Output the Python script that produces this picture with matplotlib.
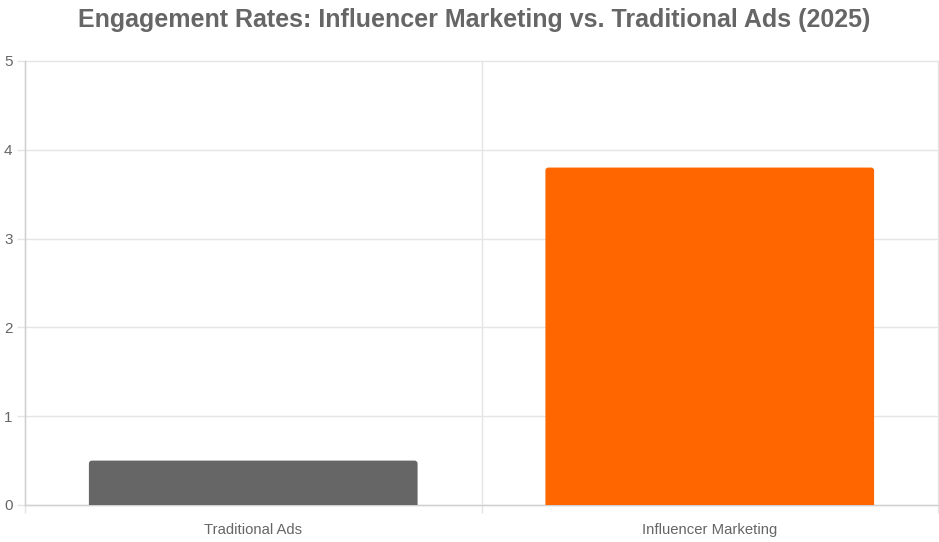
#!/usr/bin/env python3
"""Engagement rates bar chart: influencer marketing vs traditional ads."""

import matplotlib
matplotlib.use("Agg")
import matplotlib.pyplot as plt
from matplotlib.patches import FancyBboxPatch

categories = ["Traditional Ads", "Influencer Marketing"]
engagement = [0.5, 3.8]
bar_colors = ["#666666", "#FF6600"]
y_ticks = [0, 1, 2, 3, 4, 5]

plt.rcParams["font.family"] = ["Liberation Sans", "DejaVu Sans"]

W, H = 939, 542
fig = plt.figure(figsize=(W / 100, H / 100), dpi=100)
ax = fig.add_axes([25 / W, (H - 505) / H, (938 - 25) / W, (505 - 61) / H])

ax.set_xlim(-0.5, len(categories) - 0.5)
ax.set_ylim(0, 5)

# rounded-top bars (bottom corners hidden below the axis by clipping)
bar_w = 0.72
px_x = (938 - 25) / len(categories)
px_y = (505 - 61) / 5
r = 3 / px_x
for i, (val, col) in enumerate(zip(engagement, bar_colors)):
    patch = FancyBboxPatch((i - bar_w / 2, -0.2), bar_w, val + 0.2,
                           boxstyle=f"round,pad=0,rounding_size={r}",
                           mutation_aspect=px_x / px_y,
                           facecolor=col, edgecolor="none", zorder=3)
    ax.add_patch(patch)

grid_col = "#e5e5e5"
ax.set_yticks(y_ticks)
ax.set_xticks(range(len(categories)))
ax.set_xticklabels(categories)
ax.set_xticks([i - 0.5 for i in range(len(categories) + 1)], minor=True)

ax.grid(False)
for y in y_ticks:
    ax.axhline(y, color=grid_col, lw=1, zorder=1, clip_on=False)
for x in ax.get_xticks(minor=True):
    ax.axvline(x, color=grid_col, lw=1, zorder=1, clip_on=False)

for s in ["top", "right"]:
    ax.spines[s].set_visible(False)
for s in ["left", "bottom"]:
    ax.spines[s].set_color("#d0d0d0")
    ax.spines[s].set_linewidth(1)

ax.tick_params(axis="y", length=6, width=1, color=grid_col, pad=3,
               labelsize=11, labelcolor="#666666")
ax.tick_params(axis="x", which="major", length=0, pad=13,
               labelsize=10.7, labelcolor="#666666")
ax.tick_params(axis="x", which="minor", length=6, width=1, color=grid_col)

fig.suptitle("Engagement Rates: Influencer Marketing vs. Traditional Ads (2025)",
             x=(78 + 870) / 2 / W, y=1 - 20 / H, va="center",
             fontsize=18, fontweight="bold", color="#666666")

fig.savefig("out.png", dpi=100)
